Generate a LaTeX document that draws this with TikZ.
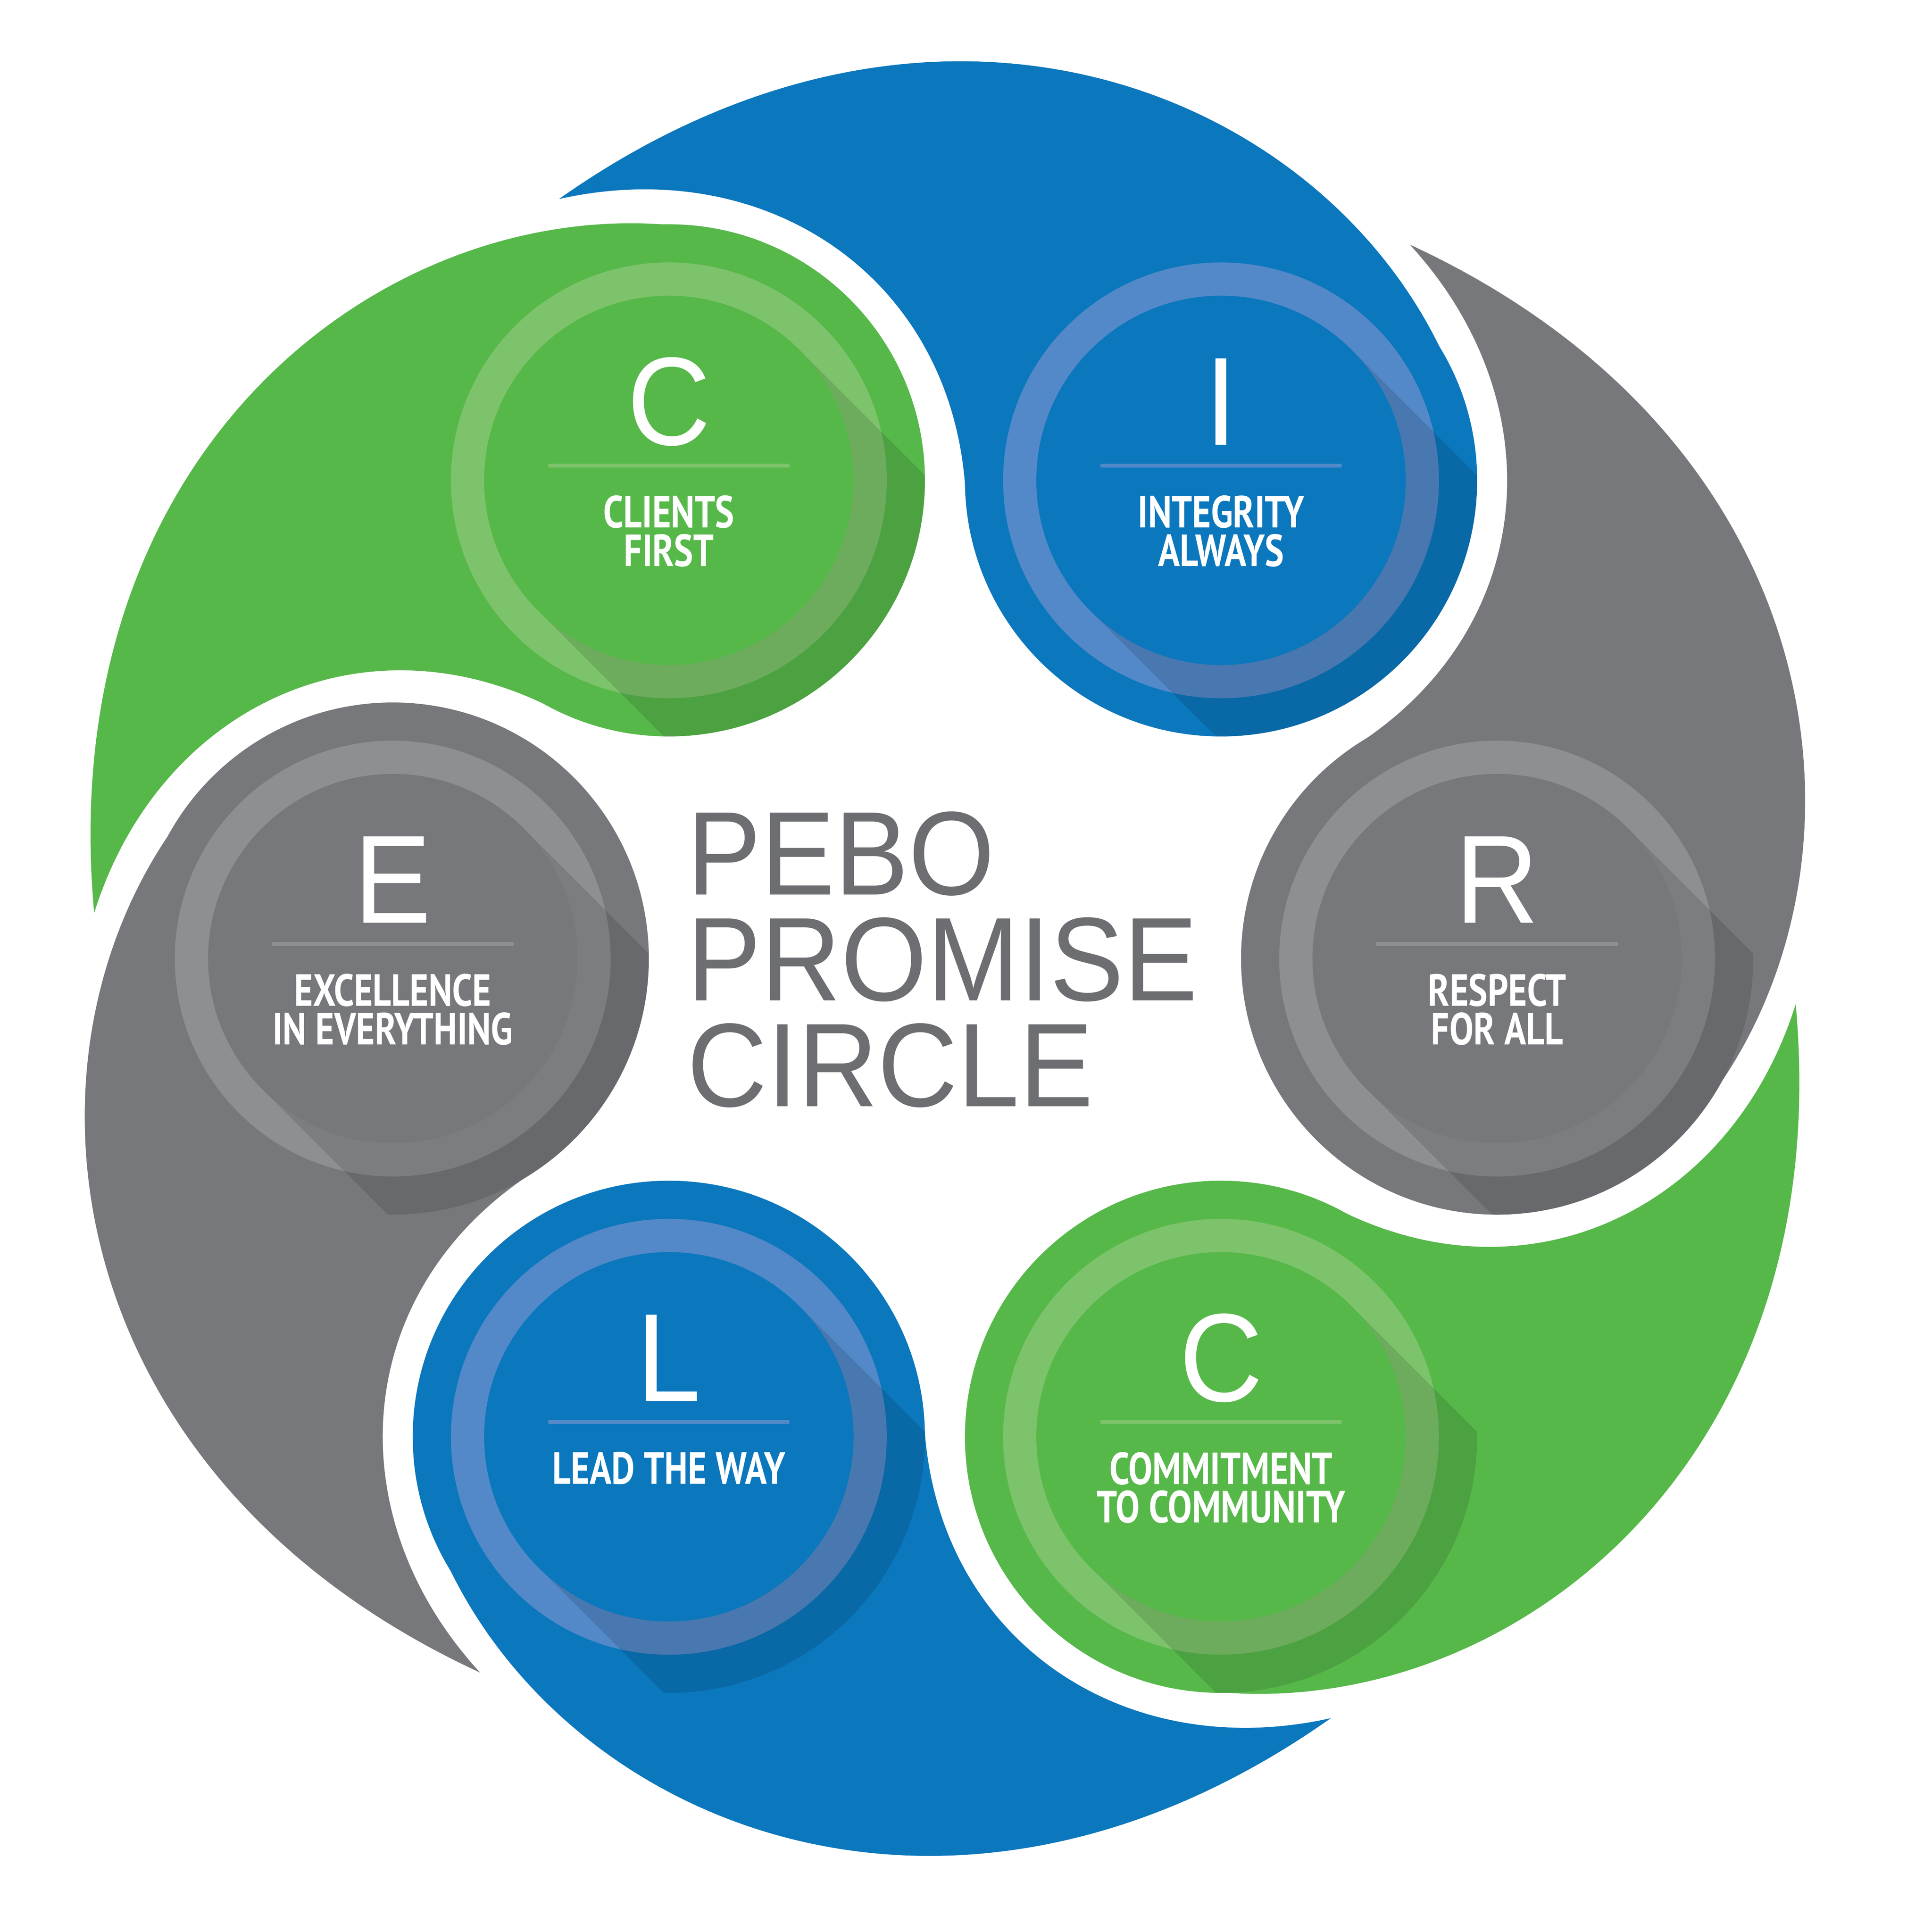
\documentclass[tikz,border=0pt]{standalone}
\usepackage{fontspec}
\usetikzlibrary{calc}
\setmainfont{Liberation Sans}
\newfontfamily\lblfont{PT Sans}
\definecolor{cgreen}{HTML}{57B84A}\definecolor{rgreen}{HTML}{7DC36B}
\definecolor{cblue}{HTML}{0B77BD}\definecolor{rblue}{HTML}{5389C8}
\definecolor{cgray}{HTML}{77787B}\definecolor{rgray}{HTML}{8E8F92}
\definecolor{tgray}{HTML}{6D6E71}
\begin{document}
\begin{tikzpicture}[x=0.01cm,y=0.01cm,
  lettertext/.style={text=white,font=\fontsize{29}{30}\selectfont,xscale=0.92},
  labeltext/.style={text=white,font=\lblfont\bfseries\fontsize{10.4}{8.9}\selectfont,align=center,xscale=0.8},
  centertext/.style={text=tgray,font=\fontsize{27.5}{30}\selectfont,anchor=west,inner sep=0pt,xscale=0.93,text height=20pt,text depth=0pt}]
\fill[white] (-767.5,-790.6) rectangle (801.7,778.6);
\useasboundingbox (-767.5,-790.6) rectangle (801.7,778.6);
\def\swoosh{(-225,596) .. controls (-460,615) and (-725,410) .. (-691,37)
  .. controls (-640,200) and (-480,280) .. (-326,207) -- (-225,300) -- cycle}
% pass 1: swooshes
\foreach \a/\c in {120/cgreen,60/cblue,0/cgray,-60/cgreen,-120/cblue,180/cgray}{
  \begin{scope}[rotate=\a-120]
    \fill[\c] \swoosh;
  \end{scope}}
% pass 2: discs
\foreach \a/\c/\r/\L/\T [count=\i] in {120/cgreen/rgreen/C/{CLIENTS\\FIRST},
  60/cblue/rblue/I/{INTEGRITY\\ALWAYS},0/cgray/rgray/R/{RESPECT\\FOR ALL},
  -60/cgreen/rgreen/C/{COMMITMENT\\TO COMMUNITY},-120/cblue/rblue/L/{LEAD THE WAY},
  180/cgray/rgray/E/{EXCELLENCE\\IN EVERYTHING}}{
  \coordinate (d\i) at (\a:448.5);
  \fill[white] (d\i) circle (217);
  \begin{scope}
    \clip (d\i) circle (218);
    \begin{scope}[rotate=\a-120]\fill[\c] \swoosh;\end{scope}
  \end{scope}
  \fill[\c] (d\i) circle (208);
  \fill[\r] (d\i) circle (177);
  \begin{scope}
    \clip (d\i) circle (208);
    \fill[black,opacity=0.12] ($(d\i)+(106,106)$) -- ($(d\i)+(-106,-106)$) -- ($(d\i)+(194,-406)$) -- ($(d\i)+(406,-194)$) -- cycle;
  \end{scope}
  \fill[\c] (d\i) circle (150);
  \node[lettertext] (L\i) at ($(d\i)+(0,64)$) {\L};
  \draw[\r,line width=0.9pt] ($(d\i)+(-98,12)$) -- ($(d\i)+(98,12)$);
  \node[labeltext,anchor=north] (T\i) at ($(d\i)+(0,0)$) {\T};
}
\node[centertext] (p1) at (-210,87) {PEBO};
\node[centertext] (p2) at (-210,1) {PROMISE};
\node[centertext] (p3) at (-210,-85) {CIRCLE};
\end{tikzpicture}
\end{document}
